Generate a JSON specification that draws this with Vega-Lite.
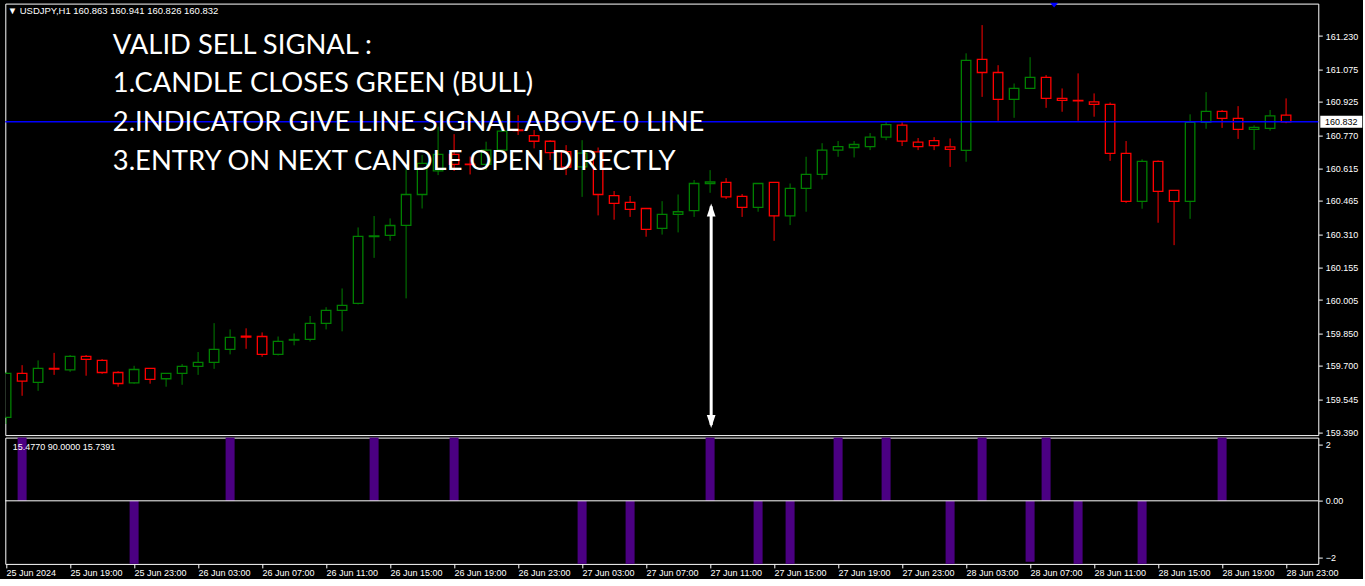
{
  "$schema": "https://vega.github.io/schema/vega-lite/v6.json",
  "background": "black",
  "padding": {"left": 3.3, "top": 1.6, "right": 0, "bottom": 0},
  "spacing": 2,
  "bounds": "flush",
  "config": {
    "view": {"stroke": "white", "strokeWidth": 1, "fill": "black"},
    "font": "Liberation Sans"
  },
  "resolve": {"scale": {"x": "independent", "y": "independent"}},
  "datasets": {
    "candles": [
      {"t":"2024-06-25T15:00","o":159.461,"h":159.672,"l":159.430,"c":159.665},
      {"t":"2024-06-25T16:00","o":159.665,"h":159.703,"l":159.561,"c":159.629},
      {"t":"2024-06-25T17:00","o":159.623,"h":159.725,"l":159.584,"c":159.688},
      {"t":"2024-06-25T18:00","o":159.688,"h":159.760,"l":159.658,"c":159.685},
      {"t":"2024-06-25T19:00","o":159.681,"h":159.750,"l":159.672,"c":159.744},
      {"t":"2024-06-25T20:00","o":159.744,"h":159.750,"l":159.654,"c":159.730},
      {"t":"2024-06-25T21:00","o":159.725,"h":159.731,"l":159.663,"c":159.669},
      {"t":"2024-06-25T22:00","o":159.669,"h":159.675,"l":159.603,"c":159.618},
      {"t":"2024-06-25T23:00","o":159.621,"h":159.700,"l":159.617,"c":159.683},
      {"t":"2024-06-26T00:00","o":159.688,"h":159.688,"l":159.617,"c":159.637},
      {"t":"2024-06-26T01:00","o":159.640,"h":159.665,"l":159.603,"c":159.665},
      {"t":"2024-06-26T02:00","o":159.665,"h":159.708,"l":159.612,"c":159.697},
      {"t":"2024-06-26T03:00","o":159.697,"h":159.764,"l":159.658,"c":159.716},
      {"t":"2024-06-26T04:00","o":159.716,"h":159.898,"l":159.686,"c":159.776},
      {"t":"2024-06-26T05:00","o":159.776,"h":159.869,"l":159.753,"c":159.832},
      {"t":"2024-06-26T06:00","o":159.838,"h":159.874,"l":159.779,"c":159.833},
      {"t":"2024-06-26T07:00","o":159.836,"h":159.855,"l":159.742,"c":159.753},
      {"t":"2024-06-26T08:00","o":159.753,"h":159.836,"l":159.748,"c":159.813},
      {"t":"2024-06-26T09:00","o":159.819,"h":159.850,"l":159.795,"c":159.822},
      {"t":"2024-06-26T10:00","o":159.823,"h":159.931,"l":159.813,"c":159.897},
      {"t":"2024-06-26T11:00","o":159.897,"h":159.972,"l":159.869,"c":159.957},
      {"t":"2024-06-26T12:00","o":159.957,"h":160.059,"l":159.860,"c":159.980},
      {"t":"2024-06-26T13:00","o":159.990,"h":160.342,"l":159.985,"c":160.301},
      {"t":"2024-06-26T14:00","o":160.300,"h":160.395,"l":160.201,"c":160.303},
      {"t":"2024-06-26T15:00","o":160.305,"h":160.384,"l":160.280,"c":160.351},
      {"t":"2024-06-26T16:00","o":160.352,"h":160.613,"l":160.013,"c":160.495},
      {"t":"2024-06-26T17:00","o":160.495,"h":160.678,"l":160.430,"c":160.639},
      {"t":"2024-06-26T18:00","o":160.605,"h":160.809,"l":160.585,"c":160.681},
      {"t":"2024-06-26T19:00","o":160.681,"h":160.775,"l":160.604,"c":160.635},
      {"t":"2024-06-26T20:00","o":160.636,"h":160.671,"l":160.588,"c":160.634},
      {"t":"2024-06-26T21:00","o":160.635,"h":160.740,"l":160.608,"c":160.701},
      {"t":"2024-06-26T22:00","o":160.701,"h":160.840,"l":160.701,"c":160.789},
      {"t":"2024-06-26T23:00","o":160.795,"h":160.863,"l":160.771,"c":160.792},
      {"t":"2024-06-27T00:00","o":160.768,"h":160.794,"l":160.709,"c":160.742},
      {"t":"2024-06-27T01:00","o":160.742,"h":160.747,"l":160.655,"c":160.689},
      {"t":"2024-06-27T02:00","o":160.694,"h":160.724,"l":160.585,"c":160.622},
      {"t":"2024-06-27T03:00","o":160.623,"h":160.747,"l":160.484,"c":160.687},
      {"t":"2024-06-27T04:00","o":160.693,"h":160.713,"l":160.398,"c":160.495},
      {"t":"2024-06-27T05:00","o":160.490,"h":160.511,"l":160.378,"c":160.454},
      {"t":"2024-06-27T06:00","o":160.458,"h":160.488,"l":160.391,"c":160.426},
      {"t":"2024-06-27T07:00","o":160.430,"h":160.430,"l":160.299,"c":160.333},
      {"t":"2024-06-27T08:00","o":160.338,"h":160.464,"l":160.309,"c":160.403},
      {"t":"2024-06-27T09:00","o":160.403,"h":160.495,"l":160.319,"c":160.415},
      {"t":"2024-06-27T10:00","o":160.420,"h":160.562,"l":160.391,"c":160.546},
      {"t":"2024-06-27T11:00","o":160.546,"h":160.608,"l":160.503,"c":160.554},
      {"t":"2024-06-27T12:00","o":160.551,"h":160.571,"l":160.474,"c":160.484},
      {"t":"2024-06-27T13:00","o":160.486,"h":160.497,"l":160.391,"c":160.435},
      {"t":"2024-06-27T14:00","o":160.435,"h":160.548,"l":160.415,"c":160.546},
      {"t":"2024-06-27T15:00","o":160.551,"h":160.552,"l":160.280,"c":160.396},
      {"t":"2024-06-27T16:00","o":160.396,"h":160.546,"l":160.353,"c":160.523},
      {"t":"2024-06-27T17:00","o":160.523,"h":160.670,"l":160.415,"c":160.588},
      {"t":"2024-06-27T18:00","o":160.588,"h":160.733,"l":160.565,"c":160.701},
      {"t":"2024-06-27T19:00","o":160.701,"h":160.743,"l":160.670,"c":160.717},
      {"t":"2024-06-27T20:00","o":160.713,"h":160.743,"l":160.667,"c":160.727},
      {"t":"2024-06-27T21:00","o":160.717,"h":160.780,"l":160.701,"c":160.761},
      {"t":"2024-06-27T22:00","o":160.761,"h":160.831,"l":160.747,"c":160.819},
      {"t":"2024-06-27T23:00","o":160.817,"h":160.831,"l":160.720,"c":160.743},
      {"t":"2024-06-28T00:00","o":160.738,"h":160.757,"l":160.701,"c":160.717},
      {"t":"2024-06-28T01:00","o":160.745,"h":160.761,"l":160.701,"c":160.722},
      {"t":"2024-06-28T02:00","o":160.716,"h":160.755,"l":160.623,"c":160.704},
      {"t":"2024-06-28T03:00","o":160.700,"h":161.150,"l":160.647,"c":161.117},
      {"t":"2024-06-28T04:00","o":161.122,"h":161.281,"l":160.948,"c":161.061},
      {"t":"2024-06-28T05:00","o":161.061,"h":161.095,"l":160.837,"c":160.936},
      {"t":"2024-06-28T06:00","o":160.936,"h":161.010,"l":160.851,"c":160.987},
      {"t":"2024-06-28T07:00","o":160.987,"h":161.132,"l":160.987,"c":161.038},
      {"t":"2024-06-28T08:00","o":161.038,"h":161.049,"l":160.897,"c":160.941},
      {"t":"2024-06-28T09:00","o":160.941,"h":160.987,"l":160.879,"c":160.932},
      {"t":"2024-06-28T10:00","o":160.932,"h":161.057,"l":160.837,"c":160.929},
      {"t":"2024-06-28T11:00","o":160.925,"h":160.964,"l":160.856,"c":160.913},
      {"t":"2024-06-28T12:00","o":160.913,"h":160.922,"l":160.651,"c":160.686},
      {"t":"2024-06-28T13:00","o":160.686,"h":160.743,"l":160.456,"c":160.463},
      {"t":"2024-06-28T14:00","o":160.463,"h":160.658,"l":160.429,"c":160.649},
      {"t":"2024-06-28T15:00","o":160.649,"h":160.653,"l":160.364,"c":160.509},
      {"t":"2024-06-28T16:00","o":160.514,"h":160.514,"l":160.260,"c":160.463},
      {"t":"2024-06-28T17:00","o":160.463,"h":160.867,"l":160.382,"c":160.830},
      {"t":"2024-06-28T18:00","o":160.830,"h":160.970,"l":160.800,"c":160.881},
      {"t":"2024-06-28T19:00","o":160.881,"h":160.887,"l":160.804,"c":160.848},
      {"t":"2024-06-28T20:00","o":160.848,"h":160.905,"l":160.753,"c":160.797},
      {"t":"2024-06-28T21:00","o":160.797,"h":160.816,"l":160.702,"c":160.806},
      {"t":"2024-06-28T22:00","o":160.802,"h":160.887,"l":160.791,"c":160.860},
      {"t":"2024-06-28T23:00","o":160.863,"h":160.941,"l":160.826,"c":160.832}
    ],
    "signals": [
      {"t":"2024-06-25T16:00","v":2.245},
      {"t":"2024-06-25T23:00","v":-2.24},
      {"t":"2024-06-26T05:00","v":2.245},
      {"t":"2024-06-26T14:00","v":2.245},
      {"t":"2024-06-26T19:00","v":2.245},
      {"t":"2024-06-27T03:00","v":-2.24},
      {"t":"2024-06-27T06:00","v":-2.24},
      {"t":"2024-06-27T11:00","v":2.245},
      {"t":"2024-06-27T14:00","v":-2.24},
      {"t":"2024-06-27T16:00","v":-2.24},
      {"t":"2024-06-27T19:00","v":2.245},
      {"t":"2024-06-27T22:00","v":2.245},
      {"t":"2024-06-28T02:00","v":-2.24},
      {"t":"2024-06-28T04:00","v":2.245},
      {"t":"2024-06-28T07:00","v":-2.16},
      {"t":"2024-06-28T08:00","v":2.245},
      {"t":"2024-06-28T10:00","v":-2.24},
      {"t":"2024-06-28T14:00","v":-2.24},
      {"t":"2024-06-28T19:00","v":2.245}
    ]
  },
  "vconcat": [
    {
      "width": 1313,
      "height": 431.5,
      "layer": [
        {
          "data": {"name": "candles"},
          "mark": {"type": "rule", "strokeWidth": 1, "clip": true},
          "encoding": {
            "x": {"field": "t", "type": "temporal", "axis": null,
                  "scale": {"domain": [{"year":2024,"month":6,"date":25,"hours":14,"minutes":57},{"year":2024,"month":6,"date":29,"hours":1,"minutes":0,"seconds":45}], "nice": false, "padding": 0}},
            "y": {"field": "l", "type": "quantitative",
                  "scale": {"domain": [159.3785, 161.3808], "zero": false, "nice": false},
                  "axis": {"orient": "right", "values": [159.39,159.545,159.7,159.85,160.005,160.155,160.31,160.465,160.615,160.77,160.925,161.075,161.23],
                           "tickCount": 30, "format": ".3f", "tickSize": 4, "tickColor": "white", "labelColor": "white", "labelFont": "Liberation Sans", "labelFontSize": 9,
                           "labelPadding": 3, "domain": false, "grid": false, "title": null, "labelOverlap": false, "labelFlush": false, "labelBound": false}},
            "y2": {"field": "h"},
            "color": {"condition": {"test": "datum.c >= datum.o", "value": "#008000"}, "value": "#ff0000"}
          }
        },
        {
          "data": {"name": "candles"},
          "mark": {"type": "bar", "width": 9.5, "fill": "black", "strokeWidth": 1.3, "clip": true},
          "encoding": {
            "x": {"field": "t", "type": "temporal"},
            "y": {"field": "o", "type": "quantitative"},
            "y2": {"field": "c"},
            "stroke": {"condition": {"test": "datum.c >= datum.o", "value": "#008000"}, "value": "#ff0000"}
          }
        },
        {
          "data": {"values": [{"p": 160.832}]},
          "mark": {"type": "rule", "color": "#0000ff", "strokeWidth": 1.5},
          "encoding": {"y": {"field": "p", "type": "quantitative"}}
        },
        {
          "data": {"values": [{}]},
          "mark": {"type": "text", "align": "left", "baseline": "alphabetic", "font": "Lato", "fontSize": 27.4, "color": "white", "lineHeight": 38.8},
          "encoding": {
            "x": {"datum": {"year":2024,"month":6,"date":25,"hours":21,"minutes":40}, "type": "temporal"},
            "y": {"datum": 161.149, "type": "quantitative"},
            "text": {"value": ["VALID SELL SIGNAL :", "1.CANDLE CLOSES GREEN (BULL)", "2.INDICATOR GIVE LINE SIGNAL ABOVE 0 LINE", "3.ENTRY ON NEXT CANDLE OPEN DIRECTLY"]}
          }
        },
        {
          "data": {"values": [{}]},
          "mark": {"type": "text", "align": "left", "baseline": "middle", "font": "Liberation Sans", "fontSize": 9.5, "color": "white"},
          "encoding": {
            "x": {"datum": {"year":2024,"month":6,"date":25,"hours":15,"minutes":6}, "type": "temporal"},
            "y": {"datum": 161.347, "type": "quantitative"},
            "text": {"value": "▼ USDJPY,H1  160.863 160.941 160.826 160.832"}
          }
        },
        {
          "data": {"values": [{}]},
          "mark": {"type": "rule", "color": "white", "strokeWidth": 3},
          "encoding": {
            "x": {"datum": {"year":2024,"month":6,"date":27,"hours":11,"minutes":4}, "type": "temporal"},
            "y": {"datum": 160.440, "type": "quantitative"},
            "y2": {"datum": 159.425}
          }
        },
        {
          "data": {"values": [{}]},
          "mark": {"type": "point", "shape": "M0,0L-1,3L1,3Z", "size": 76, "filled": true, "color": "white", "opacity": 1},
          "encoding": {
            "x": {"datum": {"year":2024,"month":6,"date":27,"hours":11,"minutes":4}, "type": "temporal"},
            "y": {"datum": 160.4537, "type": "quantitative"}
          }
        },
        {
          "data": {"values": [{}]},
          "mark": {"type": "point", "shape": "M0,0L-1,-3L1,-3Z", "size": 76, "filled": true, "color": "white", "opacity": 1},
          "encoding": {
            "x": {"datum": {"year":2024,"month":6,"date":27,"hours":11,"minutes":4}, "type": "temporal"},
            "y": {"datum": 159.411, "type": "quantitative"}
          }
        },
        {
          "data": {"values": [{}]},
          "mark": {"type": "point", "shape": "M-1,-0.6L1,-0.6L0,0.6Z", "size": 64, "filled": true, "color": "#0000ff", "opacity": 1},
          "encoding": {
            "x": {"datum": {"year":2024,"month":6,"date":28,"hours":8,"minutes":30}, "type": "temporal"},
            "y": {"datum": 161.374, "type": "quantitative"}
          }
        },
        {
          "data": {"values": [{}]},
          "mark": {"type": "point", "shape": "M0.0909,-0.2727H2V0.2727H0.0909Z", "size": 1936, "filled": true, "color": "white", "opacity": 1},
          "encoding": {
            "x": {"value": "width"},
            "y": {"datum": 160.832, "type": "quantitative"}
          }
        },
        {
          "data": {"values": [{}]},
          "mark": {"type": "text", "align": "center", "baseline": "middle", "dx": 23, "font": "Liberation Sans", "fontSize": 9, "color": "black"},
          "encoding": {
            "x": {"value": "width"},
            "y": {"datum": 160.832, "type": "quantitative"},
            "text": {"value": "160.832"}
          }
        }
      ]
    },
    {
      "width": 1313,
      "height": 126.3,
      "layer": [
        {
          "data": {"name": "signals"},
          "mark": {"type": "bar", "width": 9, "color": "#4B0082"},
          "encoding": {
            "x": {"field": "t", "type": "temporal",
                  "scale": {"domain": [{"year":2024,"month":6,"date":25,"hours":14,"minutes":57},{"year":2024,"month":6,"date":29,"hours":1,"minutes":0,"seconds":45}], "nice": false, "padding": 0},
                  "axis": {"orient": "bottom",
                           "values": [
                             {"year":2024,"month":6,"date":25,"hours":15},{"year":2024,"month":6,"date":25,"hours":19},{"year":2024,"month":6,"date":25,"hours":23},
                             {"year":2024,"month":6,"date":26,"hours":3},{"year":2024,"month":6,"date":26,"hours":7},{"year":2024,"month":6,"date":26,"hours":11},
                             {"year":2024,"month":6,"date":26,"hours":15},{"year":2024,"month":6,"date":26,"hours":19},{"year":2024,"month":6,"date":26,"hours":23},
                             {"year":2024,"month":6,"date":27,"hours":3},{"year":2024,"month":6,"date":27,"hours":7},{"year":2024,"month":6,"date":27,"hours":11},
                             {"year":2024,"month":6,"date":27,"hours":15},{"year":2024,"month":6,"date":27,"hours":19},{"year":2024,"month":6,"date":27,"hours":23},
                             {"year":2024,"month":6,"date":28,"hours":3},{"year":2024,"month":6,"date":28,"hours":7},{"year":2024,"month":6,"date":28,"hours":11},
                             {"year":2024,"month":6,"date":28,"hours":15},{"year":2024,"month":6,"date":28,"hours":19},{"year":2024,"month":6,"date":28,"hours":23}
                           ],
                           "tickCount": 60,
                           "labelExpr": "+datum.value < +datetime(2024,5,25,16,0) ? '25 Jun 2024' : timeFormat(datum.value, '%d %b %H:%M')",
                           "tickColor": "white", "tickSize": 4, "labelColor": "white", "labelFont": "Liberation Sans", "labelFontSize": 9,
                           "labelAlign": "left", "labelDx": -2, "labelPadding": 1, "labelBaseline": "top",
                           "domain": false, "grid": false, "title": null, "labelOverlap": false, "labelFlush": false, "labelBound": false}},
            "y": {"field": "v", "type": "quantitative",
                  "scale": {"domain": [-2.24, 2.245], "zero": false, "nice": false},
                  "axis": {"orient": "right", "values": [-2, 0, 2], "labelExpr": "datum.value == 0 ? '0.00' : datum.label",
                           "tickSize": 4, "tickColor": "white", "labelColor": "white", "labelFont": "Liberation Sans", "labelFontSize": 9,
                           "labelPadding": 3, "domain": false, "grid": false, "title": null, "labelOverlap": false, "labelFlush": false, "labelBound": false}},
            "y2": {"datum": 0}
          }
        },
        {
          "data": {"values": [{}]},
          "mark": {"type": "rule", "color": "white", "strokeWidth": 1},
          "encoding": {"y": {"datum": 0, "type": "quantitative"}}
        },
        {
          "data": {"values": [{}]},
          "mark": {"type": "text", "align": "left", "baseline": "middle", "font": "Liberation Sans", "fontSize": 9, "color": "white"},
          "encoding": {
            "x": {"datum": {"year":2024,"month":6,"date":25,"hours":15,"minutes":25}, "type": "temporal"},
            "y": {"datum": 1.9, "type": "quantitative"},
            "text": {"value": "15.4770 90.0000 15.7391"}
          }
        }
      ]
    }
  ]
}
